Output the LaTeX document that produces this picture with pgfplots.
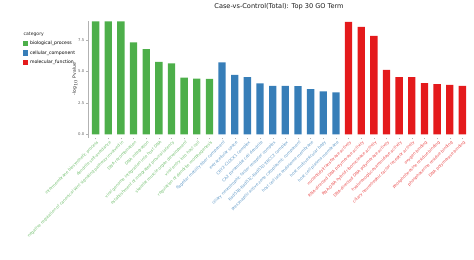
\documentclass[border=0pt]{standalone}
\usepackage{pgfplots}
\pgfplotsset{compat=1.18}
\usepackage{fontspec}
\setmainfont{DejaVu Sans}
\definecolor{bpG}{HTML}{4DAF4A}
\definecolor{ccB}{HTML}{377EB8}
\definecolor{mfR}{HTML}{E41A1C}
\newcommand{\G}[1]{\textcolor{bpG!80}{#1}}
\newcommand{\B}[1]{\textcolor{ccB!80}{#1}}
\newcommand{\R}[1]{\textcolor{mfR!80}{#1}}
\begin{document}
\begin{tikzpicture}
\useasboundingbox (0,0) rectangle (474bp,260bp);
\begin{axis}[
  at={(88bp,122.4bp)}, anchor=south west,
  scale only axis, width=382bp, height=116.9bp,
  xmin=-0.6, xmax=29.6, ymin=-0.25, ymax=9.05,
  axis lines*=left,
  x axis line style={draw=none},
  y axis line style={draw=gray!60, line width=0.4bp},
  tick align=outside, major tick length=1.8bp,
  tick style={gray!60, line width=0.35bp},
  ytick={0,2.5,5,7.5}, yticklabels={0.0,2.5,5.0,7.5},
  yticklabel style={font=\fontsize{3.8}{4}\selectfont, text=gray!70!black, xshift=1.5bp},
  ylabel={-log$_{10}$ Pvalue},
  ylabel style={font=\fontsize{4.5}{5}\selectfont, text=gray!30!black, yshift=-6bp},
  xtick={0,...,29},
  xticklabel style={font=\fontsize{4}{4.5}\selectfont, rotate=45, anchor=north east, inner sep=0.5bp, xshift=0.5bp, yshift=-0.8bp},
  xticklabels={
    \G{intermembrane biosynthetic process},
    \G{dendrite self-avoidance},
    \G{negative regulation of canonical Wnt signaling pathway involved in},
    \G{DNA recombination},
    \G{DNA integration},
    \G{viral genome integration into host DNA},
    \G{establishment of integrated proviral latency},
    \G{skeletal muscle organ development},
    \G{viral entry into host cell},
    \G{regulation of dendrite morphogenesis},
    \B{flagellar motility fiber component},
    \B{extracellular space},
    \B{CRY2-CLOCK1 complex},
    \B{CA2 pyramidal cell dendrite},
    \B{ciliary neurotrophic factor receptor complex},
    \B{Rad51B-Rad51C-Rad51D-XRCC2 complex},
    \B{presynaptic active zone cytoplasmic component},
    \B{host cell late endosome membrane},
    \B{host multivesicular body},
    \B{host cell plasma membrane},
    \R{nucleotidyltransferase activity},
    \R{RNA-directed DNA polymerase activity},
    \R{RNA-DNA hybrid ribonuclease activity},
    \R{DNA-directed DNA polymerase activity},
    \R{hyaluronoglucosaminidase activity},
    \R{ciliary neurotrophic factor receptor activity},
    \R{oxygen binding},
    \R{phosphotyrosine residue binding},
    \R{phosphoserine residue binding},
    \R{DNA polymerase binding}},
  ybar, bar width=0.58,
  legend style={at={(-0.171,0.845)}, anchor=north west, draw=none, fill=none,
    font=\fontsize{4.6}{5}\selectfont, inner sep=0pt, row sep=0.6bp,
    cells={anchor=west}},
  legend image code/.code={\fill[#1] (0bp,-2.6bp) rectangle (5.2bp,2.6bp);},
  clip=false,
]
\addplot[fill=bpG, draw=none, bar shift=0pt] coordinates {
 (0,9.0) (1,9.0) (2,9.0) (3,7.32) (4,6.79) (5,5.78) (6,5.65) (7,4.53) (8,4.45) (9,4.43)};
\addlegendentry{biological\_process}
\addplot[fill=ccB, draw=none, bar shift=0pt] coordinates {
 (10,5.73) (11,4.74) (12,4.56) (13,4.06) (14,3.87) (15,3.87) (16,3.84) (17,3.60) (18,3.42) (19,3.34)};
\addlegendentry{cellular\_component}
\addplot[fill=mfR, draw=none, bar shift=0pt] coordinates {
 (20,8.96) (21,8.56) (22,7.84) (23,5.14) (24,4.56) (25,4.56) (26,4.08) (27,4.00) (28,3.95) (29,3.87)};
\addlegendentry{molecular\_function}
\node[anchor=west, font=\fontsize{4.6}{5}\selectfont, text=gray!30!black, inner sep=0pt] at (rel axis cs:-0.169,0.886) {category};
\node[font=\fontsize{6.6}{7}\selectfont, text=gray!20!black] at (rel axis cs:0.5,1.117) {Case-vs-Control(Total): Top 30 GO Term};
\end{axis}
\end{tikzpicture}
\end{document}
